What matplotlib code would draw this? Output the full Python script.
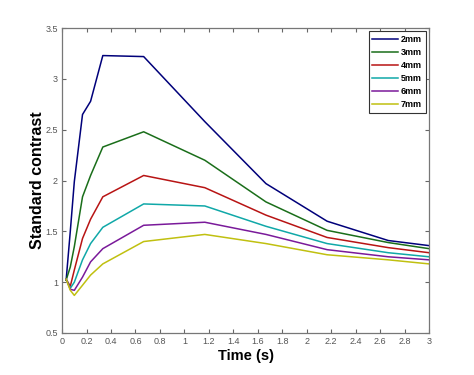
import matplotlib
matplotlib.use("Agg")
import matplotlib.pyplot as plt

plt.rcParams["font.family"] = ["Liberation Sans", "DejaVu Sans"]

# time points (s)
time_s = [0.033, 0.067, 0.1, 0.167, 0.233, 0.333, 0.667, 1.167, 1.667, 2.167, 2.667, 3.0]

contrast_2mm = [1.02, 1.50, 1.99, 2.65, 2.78, 3.23, 3.22, 2.58, 1.97, 1.60, 1.41, 1.36]
contrast_3mm = [1.02, 1.15, 1.35, 1.84, 2.05, 2.33, 2.48, 2.20, 1.79, 1.51, 1.39, 1.33]
contrast_4mm = [1.03, 0.96, 1.12, 1.43, 1.62, 1.84, 2.05, 1.93, 1.66, 1.44, 1.34, 1.29]
contrast_5mm = [1.03, 0.94, 1.00, 1.22, 1.38, 1.54, 1.77, 1.75, 1.55, 1.38, 1.29, 1.25]
contrast_6mm = [1.03, 0.93, 0.92, 1.05, 1.20, 1.33, 1.56, 1.59, 1.47, 1.32, 1.25, 1.22]
contrast_7mm = [1.03, 0.92, 0.87, 0.97, 1.07, 1.18, 1.40, 1.47, 1.38, 1.27, 1.22, 1.18]

labels = ["2mm", "3mm", "4mm", "5mm", "6mm", "7mm"]
colours = ["#00007a", "#1a6e1a", "#b81414", "#10a8a8", "#7a1a9a", "#c0c010"]

x_ticks = [0, 0.2, 0.4, 0.6, 0.8, 1, 1.2, 1.4, 1.6, 1.8, 2, 2.2, 2.4, 2.6, 2.8, 3]
y_ticks = [0.5, 1, 1.5, 2, 2.5, 3, 3.5]

fig = plt.figure(figsize=(4.74, 3.75), dpi=100)
ax = fig.add_axes([0.131, 0.112, 0.774, 0.813])

series = [contrast_2mm, contrast_3mm, contrast_4mm, contrast_5mm, contrast_6mm, contrast_7mm]
for ys, lab, col in zip(series, labels, colours):
    ax.plot(time_s, ys, color=col, lw=1.1, label=lab)

ax.set_xlim(0, 3)
ax.set_ylim(0.5, 3.5)
ax.set_xticks(x_ticks)
ax.set_xticklabels([f"{t:g}" for t in x_ticks])
ax.set_yticks(y_ticks)
ax.set_yticklabels([f"{t:g}" for t in y_ticks])
ax.tick_params(direction="in", top=True, right=True, length=3, width=0.8,
               labelsize=6.5, labelcolor="#555555", color="#666666", pad=3)
for sp in ax.spines.values():
    sp.set_color("#777777")
    sp.set_linewidth(0.9)

ax.set_xlabel("Time (s)", fontsize=10.5, fontweight="bold", labelpad=2)
ax.set_ylabel("Standard contrast", fontsize=11.5, fontweight="bold", labelpad=0)

leg = ax.legend(loc="upper right", prop={"weight": "bold", "size": 6.5},
                fancybox=False, edgecolor="#333333", framealpha=1,
                handlelength=2.9, handletextpad=0.3, borderpad=0.4,
                labelspacing=0.45, borderaxespad=0.35)
leg.get_frame().set_linewidth(0.8)

fig.savefig("out.png", dpi=100)
